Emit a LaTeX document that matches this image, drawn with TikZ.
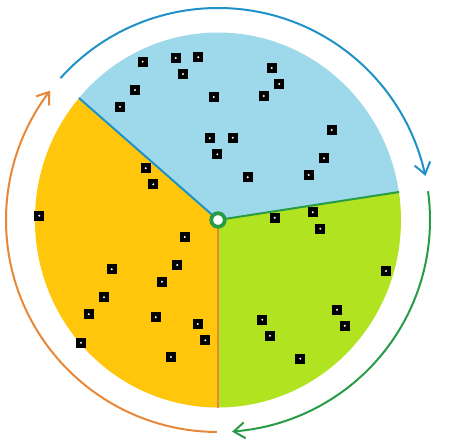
\documentclass[tikz,border=0pt]{standalone}
\usetikzlibrary{arrows.meta,bending}
\definecolor{skyfill}{RGB}{158,217,235}
\definecolor{ambfill}{RGB}{255,198,12}
\definecolor{limefill}{RGB}{177,227,32}
\definecolor{bluel}{RGB}{30,145,200}
\definecolor{greenl}{RGB}{40,155,70}
\definecolor{orangel}{RGB}{232,135,55}
\tikzset{
  sq/.style={fill=black, minimum size=10pt, inner sep=0pt, rectangle,
    path picture={\fill[white] (path picture bounding box.center) circle (1.1pt);}},
  rimline/.style={line width=2pt},
  cyclearc/.style={line width=2pt, -{Straight Barb[bend,length=11pt,width=16pt]}},
}
\begin{document}
\begin{tikzpicture}[x=1pt,y=1pt]
\useasboundingbox (0,0) rectangle (474,445);
\coordinate (c) at (218,225);
\coordinate (rb) at (79,347);
\coordinate (rg) at (399,253);
\coordinate (ro) at (218,37.5);
% sectors
\fill[skyfill] (c) -- (rb) arc[start angle=139.4, end angle=8.6, x radius=183pt, y radius=187.5pt] -- cycle;
\fill[ambfill] (c) -- (rb) arc[start angle=139.4, end angle=270, x radius=183pt, y radius=187.5pt] -- cycle;
\fill[limefill] (c) -- (ro) arc[start angle=270, end angle=368.6, x radius=183pt, y radius=187.5pt] -- cycle;
% dividing lines
\draw[rimline, bluel] (c) -- (rb);
\draw[rimline, greenl] (c) -- (rg);
\draw[rimline, orangel] (c) -- (ro);
\node[circle, draw=greenl, line width=3.8pt, fill=white, minimum size=13.5pt, inner sep=0pt] (ctr) at (c) {};
% cycle arrows
\draw[cyclearc, bluel] ([shift={(c)}]138:212pt) arc[start angle=138, end angle=12, radius=212pt];
\draw[cyclearc, greenl] ([shift={(c)}]7.8:212pt) arc[start angle=7.8, end angle=-86.2, radius=212pt];
\draw[cyclearc, orangel] ([shift={(c)}]269.7:212pt) arc[start angle=269.7, end angle=142.4, radius=212pt];
% points
\foreach \i/\x/\y in {
 1/142.7/61.7, 2/175.7/58, 3/198.3/57.3, 4/183/74, 5/271.7/68, 6/279.3/84,
 7/135/90, 8/213.7/97, 9/263.7/96, 10/120/106.7, 11/209.7/138.3, 12/232.7/137.7,
 13/331.7/130, 14/217.3/154.3, 15/324/158.3, 16/247.7/177.3, 17/308.7/175,
 18/145.7/168.3, 19/153.3/184.3, 20/39.3/215.7, 21/184.7/237, 22/111.7/269.3,
 23/177.3/265, 24/162/281.7, 25/104/297.3, 26/88.7/314.3, 27/155.7/317.3,
 28/197.7/324, 29/81/342.7, 30/205.3/340.3, 31/171/357,
 32/274.7/217.7, 33/312.7/212.3, 34/320.3/228.7, 35/386/271, 36/262.3/319.7,
 37/337/309.7, 38/344.7/325.7, 39/270/335.7, 40/300.3/358.7}
 \node[sq] (s\i) at ({\x},{445-\y}) {};
\end{tikzpicture}
\end{document}
